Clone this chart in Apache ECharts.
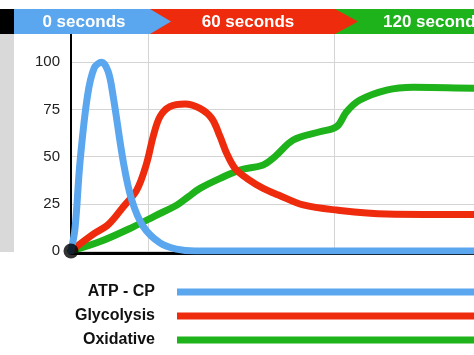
<!DOCTYPE html>
<html>
<head>
<meta charset="utf-8">
<script src="https://cdn.jsdelivr.net/npm/echarts@6/dist/echarts.min.js"></script>
<style>
html,body{margin:0;padding:0;background:#fff;}
#c{width:474px;height:355px;}
</style>
</head>
<body>
<div id="c"></div>
<script>
// Data (x = time units, y = % contribution)
const atpX = [0, 1.3, 2.9, 5.3, 7.5, 9.9, 12, 13.6, 16.9, 19.6, 23.3, 28.7, 34, 40, 130];
const atpY = [0, 12, 47, 82, 97, 100, 95, 82, 47, 27, 13, 4.3, 1, 0, 0];
const glyX = [0, 7.2, 12, 16.9, 21.2, 24.4, 26.5, 28.7, 31.9, 36.8, 41.6, 45.4, 48.1, 50.2, 52.9, 56.7, 62, 66.9, 74.9, 85.7, 101.8, 130];
const glyY = [0, 8.9, 14, 23.5, 32.3, 46.5, 60.6, 71.2, 76.5, 77.9, 75.6, 70.3, 60.6, 51.8, 43.8, 38.5, 33.2, 29.7, 24.4, 21.7, 19.6, 19.3];
const oxiX = [0, 9.4, 20.1, 27, 34.2, 37.9, 41.6, 48.1, 54.5, 62, 65.8, 71.7, 80.3, 85.7, 88.9, 93.2, 101.8, 110.4, 130];
const oxiY = [0, 5, 12.8, 18.5, 24.4, 28.8, 33.2, 38.5, 42.9, 45.6, 50, 58.8, 63.2, 65.9, 73.8, 80, 85.3, 86.8, 86.2];
const seriesNames = ['ATP - CP', 'Glycolysis', 'Oxidative'];
const colors = ['#5aa6ef', '#ef2b0d', '#1eb21b'];
const phaseLabels = ['0 seconds', '60 seconds', '120 seconds'];
const phaseMarks = [25, 85];
const yTicks = [0, 25, 50, 75, 100];

const zip = (xs, ys) => xs.map((x, i) => [x, ys[i]]);

const chart = echarts.init(document.getElementById('c'), null, {renderer: 'canvas'});

const font = 'Arial, "Liberation Sans", sans-serif';
const graphics = [];
graphics.push({type: 'rect', shape: {x: 0, y: 34, width: 14, height: 218}, style: {fill: '#d9d9d9'}, z: 1});
graphics.push({type: 'rect', shape: {x: 0, y: 9, width: 14, height: 25}, style: {fill: '#000'}, z: 10});
graphics.push({type: 'polygon', shape: {points: [[335, 9], [474, 9], [474, 34], [335, 34]]}, style: {fill: colors[2]}, z: 10});
graphics.push({type: 'polygon', shape: {points: [[148, 9], [335, 9], [358, 21.5], [335, 34], [148, 34]]}, style: {fill: colors[1]}, z: 11});
graphics.push({type: 'polygon', shape: {points: [[14, 9], [150, 9], [171, 21.5], [150, 34], [14, 34]]}, style: {fill: colors[0]}, z: 12});
graphics.push({type: 'text', x: 84, y: 22, style: {text: phaseLabels[0], fill: '#fff', font: 'bold 17px ' + font, textAlign: 'center', textVerticalAlign: 'middle'}, z: 20});
graphics.push({type: 'text', x: 248, y: 22, style: {text: phaseLabels[1], fill: '#fff', font: 'bold 17px ' + font, textAlign: 'center', textVerticalAlign: 'middle'}, z: 20});
graphics.push({type: 'text', x: 383, y: 22, style: {text: phaseLabels[2], fill: '#fff', font: 'bold 17px ' + font, textAlign: 'left', textVerticalAlign: 'middle'}, z: 20});
const legY = [292, 316, 340];
seriesNames.forEach((n, i) => {
  graphics.push({type: 'text', x: 155, y: legY[i], style: {text: n, fill: '#111', font: 'bold 16px ' + font, textAlign: 'right', textVerticalAlign: 'middle'}, z: 20});
  graphics.push({type: 'rect', shape: {x: 177, y: legY[i] - 3.5, width: 297, height: 7}, style: {fill: colors[i]}, z: 20});
});

const lineSeries = (name, data, color) => ({
  name, type: 'line', data, smooth: 0.35, showSymbol: false, symbol: 'none',
  lineStyle: {color, width: 7, cap: 'round', join: 'round'}, z: 5, silent: true, animation: false
});

chart.setOption({
  animation: false,
  grid: {left: 71, right: 0, top: 34, bottom: 104},
  xAxis: {
    type: 'value', min: 0, max: 130,
    axisLine: {show: true, onZero: false, lineStyle: {color: '#000', width: 3}},
    offset: 2,
    axisTick: {show: false}, axisLabel: {show: false}, splitLine: {show: false}
  },
  yAxis: {
    type: 'value', min: 0, max: 115, interval: 25,
    axisLine: {show: true, lineStyle: {color: '#000', width: 2}},
    axisTick: {show: false},
    axisLabel: {
      color: '#222', fontSize: 15, fontFamily: font, margin: 11, showMaxLabel: false,
      formatter: v => yTicks.includes(v) ? String(v) : ''
    },
    splitLine: {show: true, showMaxLine: false, lineStyle: {color: '#d4d4d4', width: 1}}
  },
  graphic: graphics,
  series: [
    {
      type: 'line', data: [], silent: true, z: 1,
      markLine: {
        silent: true, symbol: 'none', label: {show: false},
        lineStyle: {color: '#d4d4d4', width: 1, type: 'solid'},
        data: phaseMarks.map(v => ({xAxis: v}))
      }
    },
    lineSeries(seriesNames[2], zip(oxiX, oxiY), colors[2]),
    lineSeries(seriesNames[1], zip(glyX, glyY), colors[1]),
    lineSeries(seriesNames[0], zip(atpX, atpY), colors[0]),
    {type: 'scatter', data: [[0, 0]], symbolSize: 15, itemStyle: {color: '#000'}, z: 8, silent: true}
  ]
});
</script>
</body>
</html>
